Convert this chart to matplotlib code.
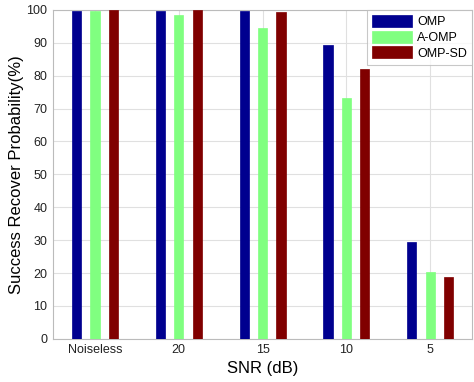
import matplotlib
matplotlib.use("Agg")
import matplotlib.pyplot as plt
import numpy as np

plt.rcParams['font.family'] = ['Liberation Sans', 'DejaVu Sans']

categories = ["Noiseless", "20", "15", "10", "5"]
series_names = ["OMP", "A-OMP", "OMP-SD"]
omp = [99.6, 99.6, 99.7, 89.4, 29.3]
a_omp = [99.8, 98.5, 94.6, 73.3, 20.2]
omp_sd = [100.0, 100.0, 99.4, 82.1, 18.8]
colors = ["#00008f", "#80ff80", "#800000"]

fig = plt.figure(figsize=(4.74, 3.82), dpi=100)
ax = fig.add_axes([0.112, 0.113, 0.884, 0.861])

x = np.arange(1, len(categories) + 1)
offsets = [-0.22, 0.0, 0.22]
width = 0.11
for vals, off, c, name in zip([omp, a_omp, omp_sd], offsets, colors, series_names):
    ax.bar(x + off, vals, width=width, color=c, edgecolor=c, linewidth=0.5, label=name, zorder=3)

ax.set_xlim(0.5, 5.5)
ax.set_ylim(0, 100)
ax.set_xticks(x)
ax.set_xticklabels(categories)
ax.set_yticks(np.arange(0, 101, 10))
ax.grid(True, color="#e0e0e0", linewidth=0.8, zorder=0)
ax.tick_params(axis='both', labelsize=9, length=0, pad=4, colors="#222222")
for s in ax.spines.values():
    s.set_color("#bbbbbb")
    s.set_linewidth(0.8)
ax.set_xlabel("SNR (dB)", fontsize=12, labelpad=3)
ax.set_ylabel("Success Recover Probability(%)", fontsize=12, labelpad=2)

leg = ax.legend(loc="upper right", fontsize=9, frameon=True, fancybox=False,
                edgecolor="#bbbbbb", borderaxespad=0.0, handlelength=3.2,
                handleheight=1.1, labelspacing=0.2, handletextpad=0.4,
                borderpad=0.4)
leg.get_frame().set_linewidth(0.8)

fig.savefig("out.png", dpi=100)
